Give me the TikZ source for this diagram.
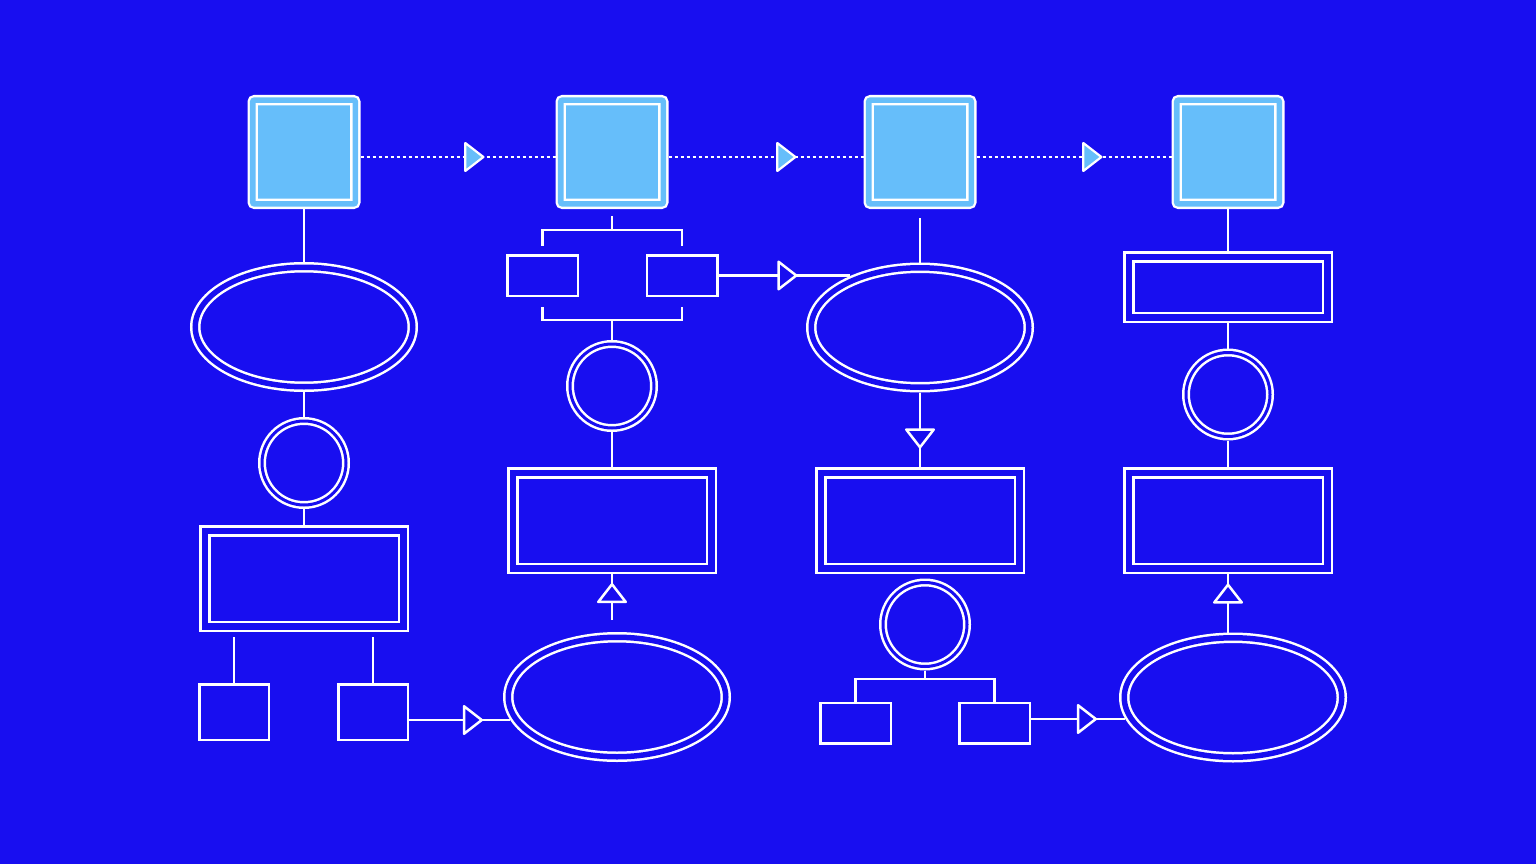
\documentclass[tikz,border=0pt]{standalone}
\usetikzlibrary{arrows.meta,decorations.markings,shapes.geometric}
\definecolor{bg}{RGB}{24,14,240}
\definecolor{sky}{RGB}{102,190,250}

\begin{document}
\begin{tikzpicture}[x=1pt, y=-1pt, color=white, line width=2.5pt]
 \tikzset{
  tri/.tip={Triangle[round,length=21pt,width=32pt,fill=bg]},
  skytri/.tip={Triangle[round,length=21pt,width=32pt,fill=sky]},
  flow/.style={postaction={decorate},decoration={markings,mark=at position #1 with {\arrow{tri}}}},
  skyflow/.style={postaction={decorate},decoration={markings,mark=at position #1 with {\arrow{skytri}}}},
  stage/.style={draw, fill=sky, double=sky, line width=2.3pt, double distance=5.7pt, rounded corners=2pt,
    minimum width=102.7pt, minimum height=103.7pt, outer sep=5.15pt, inner sep=0pt},
  panel/.style={draw, double=bg, double distance=6.5pt, minimum width=198.5pt, minimum height=95.5pt,
    outer sep=5.75pt, inner sep=0pt},
  oval/.style={ellipse, draw, double=bg, double distance=5.5pt, minimum width=217.5pt, minimum height=119.5pt,
    outer sep=5.25pt, inner sep=0pt},
  ring/.style={circle, draw, double=bg, double distance=3pt, minimum size=84pt, outer sep=4pt, inner sep=0pt},
  leaf/.style={draw, minimum width=69.5pt, minimum height=55.5pt, outer sep=1.25pt, inner sep=0pt},
  tab/.style={draw, minimum width=70.5pt, minimum height=40.5pt, outer sep=1.25pt, inner sep=0pt},
  dots/.style={line width=2.2pt, dash pattern=on 3.3pt off 2.7pt}
 }
  \fill[bg] (0,0) rectangle (1536,864);
  \useasboundingbox (0,0) rectangle (1536,864);

  % top row
  \node[stage] (Top1) at (304,152) {};
  \node[stage] (Top2) at (612,152) {};
  \node[stage] (Top3) at (920,152) {};
  \node[stage] (Top4) at (1228,152) {};
  \draw[dots, skyflow=124pt] ([yshift=-5pt]Top1.east) -- ([yshift=-5pt]Top2.west);
  \draw[dots, skyflow=128pt] ([yshift=-5pt]Top2.east) -- ([yshift=-5pt]Top3.west);
  \draw[dots, skyflow=126pt] ([yshift=-5pt]Top3.east) -- ([yshift=-5pt]Top4.west);

  % column 1
  \node[oval] (Oval1) at (304,327) {};
  \node[ring] (Ring1) at (304,463) {};
  \node[panel] (Panel1) at (304,578.5) {};
  \node[leaf] (LeafA1) at (234,712) {};
  \node[leaf] (LeafB1) at (373,712) {};
  \draw (Top1.south) -- (Oval1.north);
  \draw (Oval1.south) -- (Ring1.north);
  \draw (Ring1.south) -- (Panel1.north);
  \draw[shorten <=5pt] (Panel1.south -| LeafA1.north) -- (LeafA1.north);
  \draw[shorten <=5pt] (Panel1.south -| LeafB1.north) -- (LeafB1.north);

  % column 2
  \node[tab] (TabA2) at (542.5,275.5) {};
  \node[tab] (TabB2) at (682,275.5) {};
  \node[ring] (Ring2) at (612,386) {};
  \node[panel] (Panel2) at (612,520.5) {};
  \node[oval] (Oval2) at (617,697) {};
  \coordinate (Fork2) at (612,230);
  \coordinate (Join2) at (612,320);
  \coordinate (Tail2) at (612,620);
  \draw[shorten <=7pt] (Top2.south) -- (Fork2);
  \draw[shorten >=8pt] (Fork2) -| (TabA2.north);
  \draw[shorten >=8pt] (Fork2) -| (TabB2.north);
  \draw[shorten >=10pt] (Join2) -| (TabA2.south);
  \draw[shorten >=10pt] (Join2) -| (TabB2.south);
  \draw (Join2) -- (Ring2.north);
  \draw (Ring2.south) -- (Panel2.north);
  \draw[flow=37pt] (Tail2) -- (Panel2.south);
  \draw[flow=74pt] ([yshift=-8pt]LeafB1.east) -- ([yshift=-8pt]LeafB1.east -| Oval2.192);

  % column 3
  \node[oval] (Oval3) at (920,327.5) {};
  \node[panel] (Panel3) at (920,520.5) {};
  \node[ring] (Ring3) at (925,624.5) {};
  \node[tab] (TabA3) at (855.5,723) {};
  \node[tab] (TabB3) at (994.5,723) {};
  \coordinate (Fork3) at (925,679);
  \draw[shorten <=9pt] (Top3.south) -- (Oval3.north);
  \draw[flow=79pt] (TabB2.east) -- (TabB2.east -| Oval3.144);
  \draw[flow=56pt] (Oval3.south) -- (Panel3.north);
  \draw (Ring3.south) -- (Fork3);
  \draw (Fork3) -| (TabA3.north);
  \draw (Fork3) -| (TabB3.north);

  % column 4
  \node[panel, minimum height=60.5pt] (Panel4) at (1228,287) {};
  \node[ring] (Ring4) at (1228,394.5) {};
  \node[panel] (Base4) at (1228,520.5) {};
  \node[oval] (Oval4) at (1233,697.5) {};
  \draw (Top4.south) -- (Panel4.north);
  \draw (Panel4.south) -- (Ring4.north);
  \draw (Ring4.south) -- (Base4.north);
  \draw[flow=49pt] (Oval4.north -| Base4.south) -- (Base4.south);
  \draw[flow=66pt] ([yshift=4pt]TabB3.east) -- ([yshift=4pt]TabB3.east -| Oval4.191);
\end{tikzpicture}
\end{document}
